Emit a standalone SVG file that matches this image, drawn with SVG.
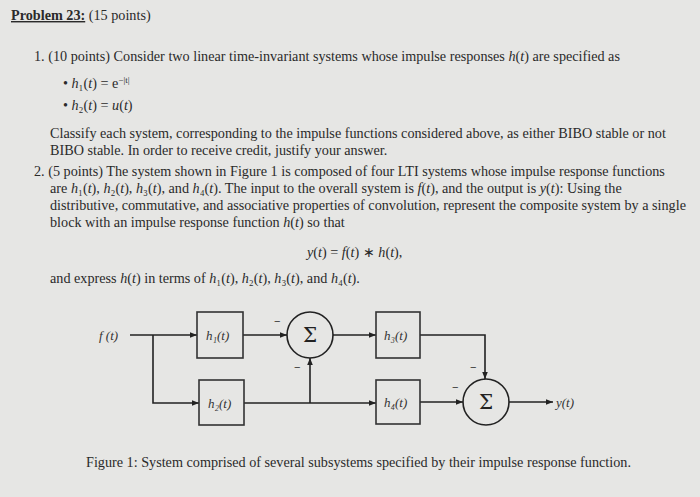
<svg xmlns="http://www.w3.org/2000/svg" width="700" height="497" viewBox="0 0 700 497">
<style>
.t{font-family:"Liberation Serif",serif;font-size:14.2px;fill:#2a2a2a}
.m{font-family:"Liberation Serif",serif;font-style:italic;font-size:13px;fill:#333}
.b{fill:none;stroke:#333;stroke-width:1.6}
.c{fill:none;stroke:#222;stroke-width:1.6}
.s{font-family:"DejaVu Serif",serif;font-size:20px;fill:#222;text-anchor:middle}
.mn{font-family:"Liberation Sans",sans-serif;font-size:11px;fill:#333}
</style>
<defs><marker id="a" viewBox="0 0 10 10" refX="10" refY="5" markerWidth="7" markerHeight="7" orient="auto" markerUnits="userSpaceOnUse"><path d="M0,1L10,5L0,9z" fill="#222"/></marker></defs>
<rect width="700" height="497" fill="#e6e6e4"/>
<g id="text">
<text class="t" x="11" y="20"><tspan font-weight="bold" text-decoration="underline">Problem 23:</tspan> (15 points)</text>
<text class="t" x="34" y="61">1. (10 points) Consider two linear time-invariant systems whose impulse responses <tspan font-style="italic">h</tspan>(<tspan font-style="italic">t</tspan>) are specified as</text>
<text class="t" x="63" y="88">• <tspan font-style="italic">h</tspan>₁(<tspan font-style="italic">t</tspan>) = e<tspan dy="-5" font-size="9">−|t|</tspan></text>
<text class="t" x="63" y="110">• <tspan font-style="italic">h</tspan>₂(<tspan font-style="italic">t</tspan>) = <tspan font-style="italic">u</tspan>(<tspan font-style="italic">t</tspan>)</text>
<text class="t" x="50" y="138">Classify each system, corresponding to the impulse functions considered above, as either BIBO stable or not</text>
<text class="t" x="50" y="155">BIBO stable. In order to receive credit, justify your answer.</text>
<text class="t" x="34" y="176">2. (5 points) The system shown in Figure 1 is composed of four LTI systems whose impulse response functions</text>
<text class="t" x="50" y="193">are <tspan font-style="italic">h</tspan>₁(<tspan font-style="italic">t</tspan>), <tspan font-style="italic">h</tspan>₂(<tspan font-style="italic">t</tspan>), <tspan font-style="italic">h</tspan>₃(<tspan font-style="italic">t</tspan>), and <tspan font-style="italic">h</tspan>₄(<tspan font-style="italic">t</tspan>). The input to the overall system is <tspan font-style="italic">f</tspan>(<tspan font-style="italic">t</tspan>), and the output is <tspan font-style="italic">y</tspan>(<tspan font-style="italic">t</tspan>): Using the</text>
<text class="t" x="50" y="210">distributive, commutative, and associative properties of convolution, represent the composite system by a single</text>
<text class="t" x="50" y="227">block with an impulse response function <tspan font-style="italic">h</tspan>(<tspan font-style="italic">t</tspan>) so that</text>
<text class="t" x="307" y="257"><tspan font-style="italic">y</tspan>(<tspan font-style="italic">t</tspan>) = <tspan font-style="italic">f</tspan>(<tspan font-style="italic">t</tspan>) ∗ <tspan font-style="italic">h</tspan>(<tspan font-style="italic">t</tspan>),</text>
<text class="t" x="50" y="283">and express <tspan font-style="italic">h</tspan>(<tspan font-style="italic">t</tspan>) in terms of <tspan font-style="italic">h</tspan>₁(<tspan font-style="italic">t</tspan>), <tspan font-style="italic">h</tspan>₂(<tspan font-style="italic">t</tspan>), <tspan font-style="italic">h</tspan>₃(<tspan font-style="italic">t</tspan>), and <tspan font-style="italic">h</tspan>₄(<tspan font-style="italic">t</tspan>).</text>
<text class="t" x="86" y="467">Figure 1: System comprised of several subsystems specified by their impulse response function.</text>
</g>
<g id="connectors">
<path class="c" d="M130,335H197" marker-end="url(#a)"/>
<path class="c" d="M153,335V403H199" marker-end="url(#a)"/>
<path class="c" d="M243,335H287" marker-end="url(#a)"/>
<path class="c" d="M333,335H376" marker-end="url(#a)"/>
<path class="c" d="M244,403H376" marker-end="url(#a)"/>
<path class="c" d="M310,403V358" marker-end="url(#a)"/>
<path class="c" d="M420,335H485V379" marker-end="url(#a)"/>
<path class="c" d="M420,402H463" marker-end="url(#a)"/>
<path class="c" d="M509,402H553" marker-end="url(#a)"/>
</g>
<g id="in"><text class="m" x="99" y="340" font-size="14">f (t)</text></g>
<g id="h1"><rect class="b" x="197" y="312" width="46" height="46"/><text class="m" x="206" y="340">h₁(t)</text></g>
<g id="h2"><rect class="b" x="199" y="380" width="45" height="45"/><text class="m" x="208" y="408">h₂(t)</text></g>
<g id="h3"><rect class="b" x="376" y="312" width="44" height="46"/><text class="m" x="384" y="340">h₃(t)</text></g>
<g id="h4"><rect class="b" x="376" y="380" width="44" height="44"/><text class="m" x="384" y="407">h₄(t)</text></g>
<g id="sum1"><circle class="c" cx="310" cy="335" r="23"/><text class="s" x="310" y="342">Σ</text><text class="mn" x="274" y="325">−</text><text class="mn" x="294" y="371">−</text></g>
<g id="sum2"><circle class="c" cx="486" cy="402" r="23"/><text class="s" x="486" y="409">Σ</text><text class="mn" x="470" y="371">−</text><text class="mn" x="452" y="391">−</text></g>
<g id="out"><text class="m" x="556" y="407">y(t)</text></g>
</svg>
